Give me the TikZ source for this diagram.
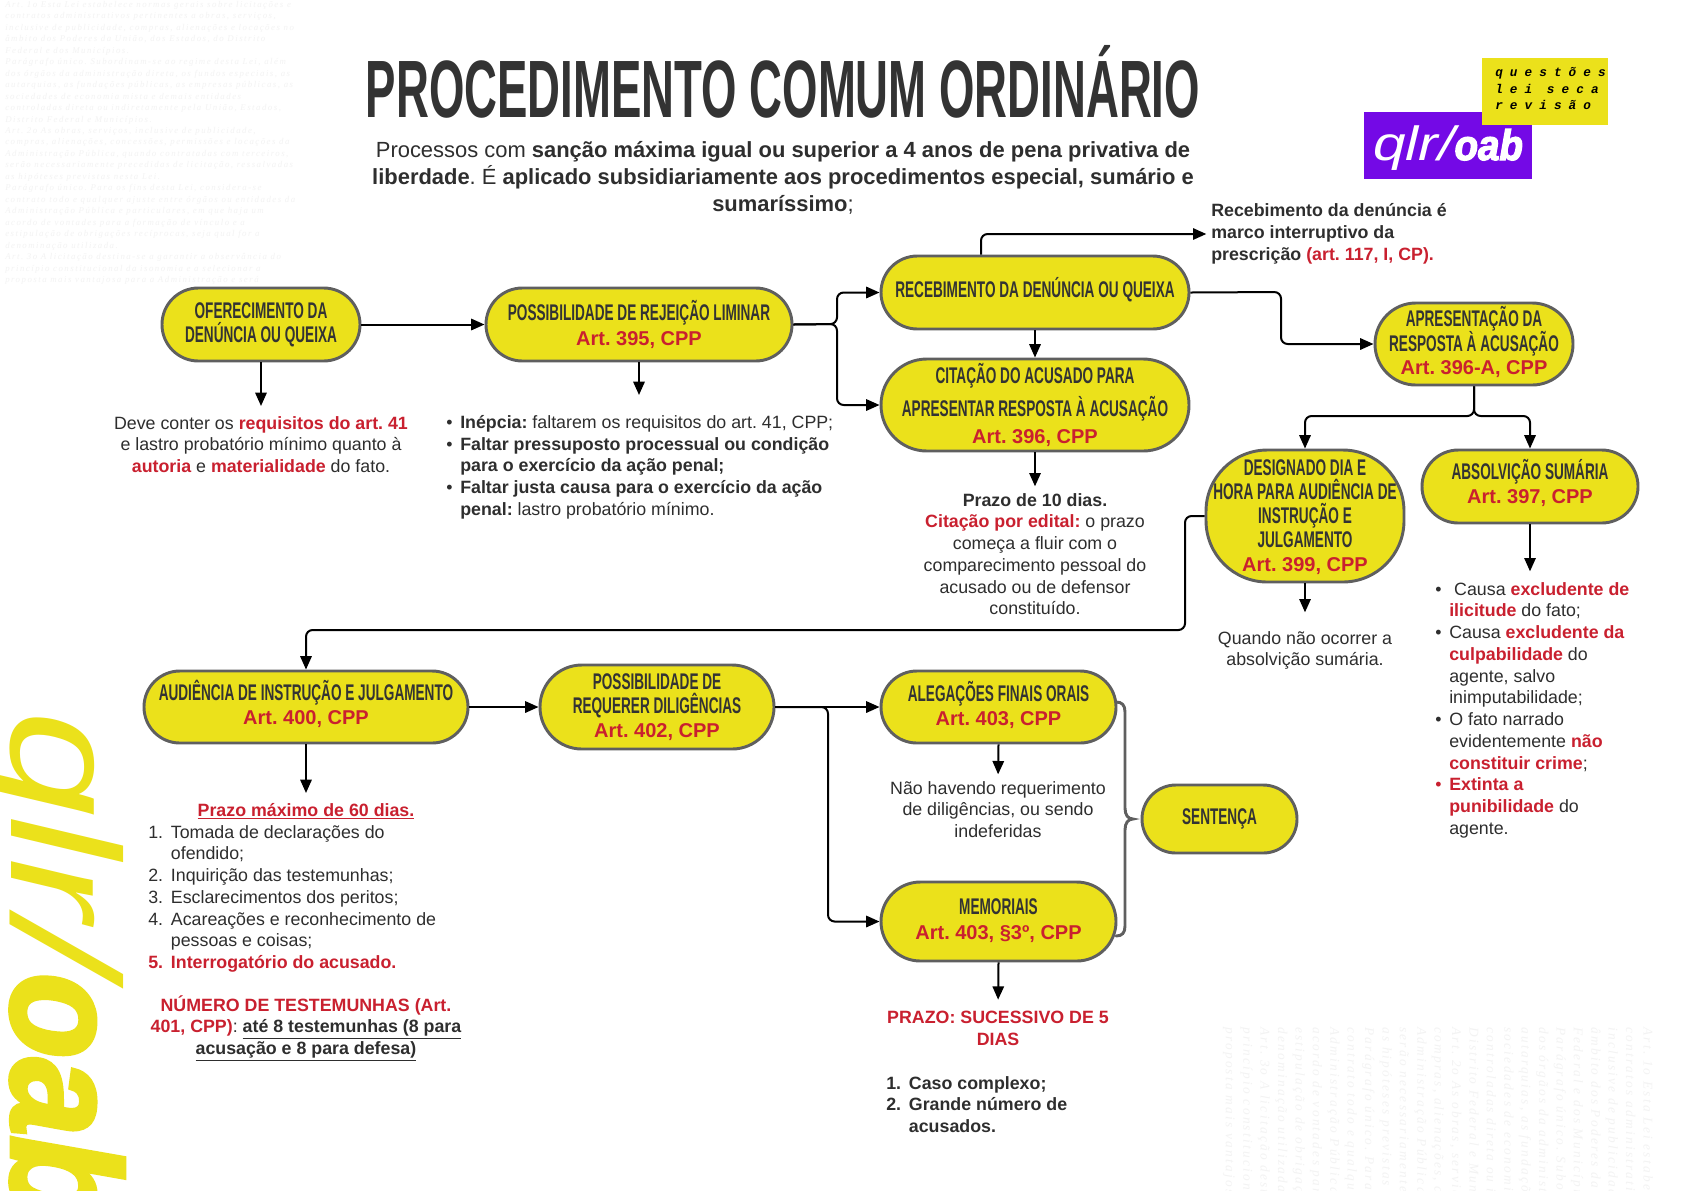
\documentclass[tikz,border=0pt]{standalone}
\usepackage{fontspec}
\usetikzlibrary{arrows.meta,calc}
\setmainfont{Liberation Sans}
\newfontfamily\bebas[FakeStretch=0.6]{Liberation Sans}
\newfontfamily\bigbebas[FakeStretch=0.56]{Liberation Sans}
\newfontfamily\waterfont[LetterSpace=17]{Liberation Serif}
\newfontfamily\monofont[LetterSpace=56]{Liberation Mono}
\newfontfamily\qlrfont[FakeStretch=1.22]{Liberation Sans}
\newfontfamily\oabfont[FakeBold=3,FakeStretch=0.9]{Liberation Sans}
\definecolor{qyellow}{HTML}{EBE11B}
\definecolor{qpurple}{HTML}{7409E6}
\definecolor{qborder}{HTML}{5F5F5F}
\definecolor{qred}{HTML}{C9202F}
\definecolor{qdark}{HTML}{333333}
\definecolor{qtext}{HTML}{2E2E2E}
\definecolor{qwater}{HTML}{F3F3F3}
\newcommand\rb[1]{{\bfseries\color{qred}#1}}
\newcommand\db[1]{{\bfseries #1}}
\newcommand\art[1]{{\fontsize{15}{15}\selectfont\rmfamily\bfseries\color{qred}#1}}
\newcommand\lit[2]{\makebox[\litw][l]{#1}#2}
\newcommand\raiseby[1]{\rule[-#1pt]{0pt}{0pt}}
\newlength\litw
\newcommand\watertext{Art. 1o  Esta Lei estabelece normas gerais sobre licitações e\\
contratos administrativos pertinentes a obras, serviços,\\
inclusive de publicidade, compras, alienações e locações no\\
âmbito dos Poderes da União, dos Estados, do Distrito\\
Federal e dos Municípios.\\
Parágrafo único.  Subordinam-se ao regime desta Lei, além\\
dos órgãos da administração direta, os fundos especiais, as\\
autarquias, as fundações públicas, as empresas públicas, as\\
sociedades de economia mista e demais entidades\\
controladas direta ou indiretamente pela União, Estados,\\
Distrito Federal e Municípios.\\
Art. 2o  As obras, serviços, inclusive de publicidade,\\
compras, alienações, concessões, permissões e locações da\\
Administração Pública, quando contratadas com terceiros,\\
serão necessariamente precedidas de licitação, ressalvadas\\
as hipóteses previstas nesta Lei.\\
Parágrafo único.  Para os fins desta Lei, considera-se\\
contrato todo e qualquer ajuste entre órgãos ou entidades da\\
Administração Pública e particulares, em que haja um\\
acordo de vontades para a formação de vínculo e a\\
estipulação de obrigações recíprocas, seja qual for a\\
denominação utilizada.\\
Art. 3o  A licitação destina-se a garantir a observância do\\
princípio constitucional da isonomia e a selecionar a\\
proposta mais vantajosa para a Administração e será}
\tikzset{
  pill/.style={draw=qborder,fill=qyellow,line width=2.2pt,rectangle,inner sep=0pt,
    align=center,text=qdark,font=\bebas\bfseries\fontsize{17}{18}\selectfont},
  txt/.style={inner sep=0pt,align=center,text=qtext,font=\frenchspacing\fontsize{13.35}{16.3}\selectfont},
  txtl/.style={txt,align=left,anchor=north west},
  conn/.style={line width=1.5pt,black,rounded corners=5pt,-{Triangle[length=10pt,width=8.5pt]}},
  brace/.style={line width=2.2pt,qborder,line cap=round},
  water/.style={inner sep=0pt,align=left,text=qwater,anchor=north west},
}
\newcommand\pillnode[6]{\node[pill,rounded corners={min((#5-#3)*0.375pt-0.1pt,46pt)},minimum width={(#4-#2)*0.75pt},minimum height={(#5-#3)*0.75pt}] (#1) at ({(#2+#4)/2},{(#3+#5)/2}) {#6};}
\frenchspacing
\begin{document}
\begin{tikzpicture}[x=0.75pt,y=-0.75pt]
\useasboundingbox (0,0) rectangle (1683,1190);
\clip (0,0) rectangle (1683,1190);
\fill[white] (0,0) rectangle (1683,1190);
% watermarks
\node[water,font=\waterfont\itshape\fontsize{6.6}{8.6}\selectfont] (waterA) at (5,1) {\watertext};
\node[water,rotate=-90,font=\waterfont\itshape\fontsize{10}{13.05}\selectfont] (waterB) at (1653,1027) {\watertext};
% big logo
\node[inner sep=0pt,anchor=base west,rotate=-90,text=qyellow,font=\fontsize{116}{116}\selectfont] (bigq) at (12,711) {{\qlrfont\itshape qlr/}{\oabfont\bfseries\itshape oab}};
% title
\node[inner sep=0pt,text=qdark,font=\bigbebas\bfseries\fontsize{61}{61}\selectfont] (title) at (783,82) {PROCEDIMENTO COMUM ORDINÁRIO};
\node[txt,font=\frenchspacing\fontsize{16.45}{20.2}\selectfont] (sub) at (783,177.5) {Processos com \db{sanção máxima igual ou superior a 4 anos de pena privativa de}\\
\db{liberdade}. É \db{aplicado subsidiariamente aos procedimentos especial, sumário e}\\
\db{sumaríssimo};};
% small logo
\fill[qpurple] (1364,112) rectangle (1532,179);
\node[inner sep=0pt,anchor=base west,text=white,font=\fontsize{36}{36}\selectfont] (smallq) at (1373,160) {{\qlrfont\itshape qlr/}{\oabfont\bfseries\itshape\fontsize{32}{32}\selectfont oab}};
\fill[qyellow] (1482,58) rectangle (1608,125);
\node[inner sep=0pt,anchor=north west,align=left,text=black,font=\monofont\bfseries\itshape\fontsize{9.5}{12.5}\selectfont] (tag) at (1495,67) {questões\\lei seca\\revisão};
% pills
\pillnode{p1}{162}{288}{360}{361}{OFERECIMENTO DA\\DENÚNCIA OU QUEIXA}
\pillnode{p2}{486}{288}{792}{361}{POSSIBILIDADE DE REJEIÇÃO LIMINAR\\[1pt]\art{Art. 395, CPP}\raiseby{2}}
\pillnode{p3}{881}{256}{1189}{329}{RECEBIMENTO DA DENÚNCIA OU QUEIXA\raiseby{8}}
\pillnode{p4}{881}{359}{1189}{451}{CITAÇÃO DO ACUSADO PARA\\[5pt]APRESENTAR RESPOSTA À ACUSAÇÃO\\[2pt]\art{Art. 396, CPP}\raiseby{1}}
\pillnode{p5}{1375}{303}{1573}{385}{APRESENTAÇÃO DA\\[-1pt]RESPOSTA À ACUSAÇÃO\\[-1pt]\art{Art. 396-A, CPP}\raiseby{5}}
\pillnode{p6}{1206}{450}{1404}{582}{\rule{0pt}{14pt}DESIGNADO DIA E\\HORA PARA AUDIÊNCIA DE\\INSTRUÇÃO E\\JULGAMENTO\\\art{Art. 399, CPP}}
\pillnode{p7}{1422}{450}{1638}{523}{ABSOLVIÇÃO SUMÁRIA\\\art{Art. 397, CPP}\raiseby{8}}
\pillnode{p8}{144}{671}{468}{743}{AUDIÊNCIA DE INSTRUÇÃO E JULGAMENTO\\\art{Art. 400, CPP}\raiseby{7}}
\pillnode{p9}{540}{665}{774}{749}{POSSIBILIDADE DE\\REQUERER DILIGÊNCIAS\\\art{Art. 402, CPP}}
\pillnode{p10}{881}{671}{1116}{743}{ALEGAÇÕES FINAIS ORAIS\\\art{Art. 403, CPP}\raiseby{6}}
\pillnode{p11}{881}{882}{1116}{961}{MEMORIAIS\\[1pt]\art{Art. 403, §3º, CPP}\raiseby{4}}
\pillnode{p12}{1142}{785}{1297}{853}{SENTENÇA}
% texts
\node[txt,anchor=north] (t1) at (261,416) {Deve conter os \rb{requisitos do art. 41}\\e lastro probatório mínimo quanto à\\\rb{autoria} e \rb{materialidade} do fato.};
\setlength\litw{10.5pt}
\node[txtl] (t2) at (446,415) {\lit{\textbullet}{\db{Inépcia:} faltarem os requisitos do art. 41, CPP;}\\
\lit{\textbullet}{\db{Faltar pressuposto processual ou condição}}\\
\lit{}{\db{para o exercício da ação penal;}}\\
\lit{\textbullet}{\db{Faltar justa causa para o exercício da ação}}\\
\lit{}{\db{penal:} lastro probatório mínimo.}};
\node[txt,anchor=north] (t3) at (1035,493) {\db{Prazo de 10 dias.}\\\rb{Citação por edital:} o prazo\\começa a fluir com o\\comparecimento pessoal do\\acusado ou de defensor\\constituído.};
\node[txtl,anchor=west] (t4) at (1211,234) {\db{Recebimento da denúncia é}\\\db{marco interruptivo da}\\\db{prescrição} \rb{(art. 117, I, CP).}};
\node[txt,anchor=north] (t5) at (1305,631) {Quando não ocorrer a\\absolvição sumária.};
\setlength\litw{10.5pt}
\node[txtl] (t6) at (1435,582) {\lit{\textbullet}{\ Causa \rb{excludente de}}\\
\lit{}{\rb{ilicitude} do fato;}\\
\lit{\textbullet}{Causa \rb{excludente da}}\\
\lit{}{\rb{culpabilidade} do}\\
\lit{}{agente, salvo}\\
\lit{}{inimputabilidade;}\\
\lit{\textbullet}{O fato narrado}\\
\lit{}{evidentemente \rb{não}}\\
\lit{}{\rb{constituir crime};}\\
\lit{\textcolor{qred}{\textbullet}}{\rb{Extinta a}}\\
\lit{}{\rb{punibilidade} do}\\
\lit{}{agente.}};
\node[txt,anchor=north] (t7a) at (306,803) {\rb{\underline{Prazo máximo de 60 dias.}}};
\setlength\litw{17pt}
\node[txtl] (t7b) at (148,825) {\lit{1.}{Tomada de declarações do}\\
\lit{}{ofendido;}\\
\lit{2.}{Inquirição das testemunhas;}\\
\lit{3.}{Esclarecimentos dos peritos;}\\
\lit{4.}{Acareações e reconhecimento de}\\
\lit{}{pessoas e coisas;}\\
\lit{\rb{5.}}{\rb{Interrogatório do acusado.}}};
\node[txt,anchor=north] (t7c) at (306,995) {\rb{NÚMERO DE TESTEMUNHAS (Art.}\\\rb{401, CPP)}: \db{\underline{até 8 testemunhas (8 para}}\\\db{\underline{acusação e 8 para defesa)}}};
\node[txt,anchor=north] (t8) at (998,781) {Não havendo requerimento\\de diligências, ou sendo\\indeferidas};
\node[txt,anchor=north] (t9a) at (998,1011) {\rb{PRAZO: SUCESSIVO DE 5}\\\rb{DIAS}};
\node[txtl] (t9b) at (886,1076) {\lit{\db{1.}}{\db{Caso complexo;}}\\
\lit{\db{2.}}{\db{Grande número de}}\\
\lit{}{\db{acusados.}}};
% junctions
\coordinate (jA) at (837,324);
\coordinate (jB) at (981,234);
\coordinate (jC) at (1281,292);
\coordinate (jD) at (1474,416);
\coordinate (jE) at (1185,516);
\coordinate (jF) at (1185,630);
\coordinate (jG) at (828,707);
% connectors
\draw[conn] (p1.east) -- (p2.west);
\draw[conn,shorten >=7.5pt] (p1.south) -- (t1.north);
\draw[conn,shorten >=15pt] (p2.south) -- (p2.south |- t2.north);
\draw[conn] (p2.east) -- (jA) |- (p3.west);
\draw[conn] (p2.east) -- (jA) |- (p4.west);
\draw[conn] (p3.south) -- (p4.north);
\draw[conn,shorten >=5pt] (p4.south) -- (t3.north);
\draw[conn,shorten >=3.5pt] (p3.north -| jB) -- (jB) -- (jB -| t4.west);
\draw[conn] (p3.east) -- (jC) |- (p5.west);
\draw[conn] (p5.south) -- (jD) -| (p6.north);
\draw[conn] (p5.south) -- (jD) -| (p7.north);
\draw[conn,shorten >=14pt] (p6.south) -- (t5.north);
\draw[conn,shorten >=8pt] (p7.south) -- (p7.south |- t6.north);
\draw[conn] (p6.west) -- (jE) -- (jF) -| (p8.north);
\draw[conn] (p8.east) -- (p9.west);
\draw[conn,shorten >=7.5pt] (p8.south) -- (t7a.north);
\draw[conn] (p9.east) -- (p10.west);
\draw[conn] (p9.east) -- (jG) |- (p11.west);
\draw[conn,shorten >=5pt] (p10.south) -- (t8.north);
\draw[conn,shorten >=8.5pt] (p11.south) -- (t9a.north);
% brace
\draw[brace] (1116,702) .. controls (1122,702) and (1125,705) .. (1125,712) -- (1125,808) .. controls (1125,815) and (1128,819) .. (1133,819) .. controls (1128,819) and (1125,823) .. (1125,830) -- (1125,926) .. controls (1125,933) and (1122,936) .. (1116,936);
\end{tikzpicture}
\end{document}
